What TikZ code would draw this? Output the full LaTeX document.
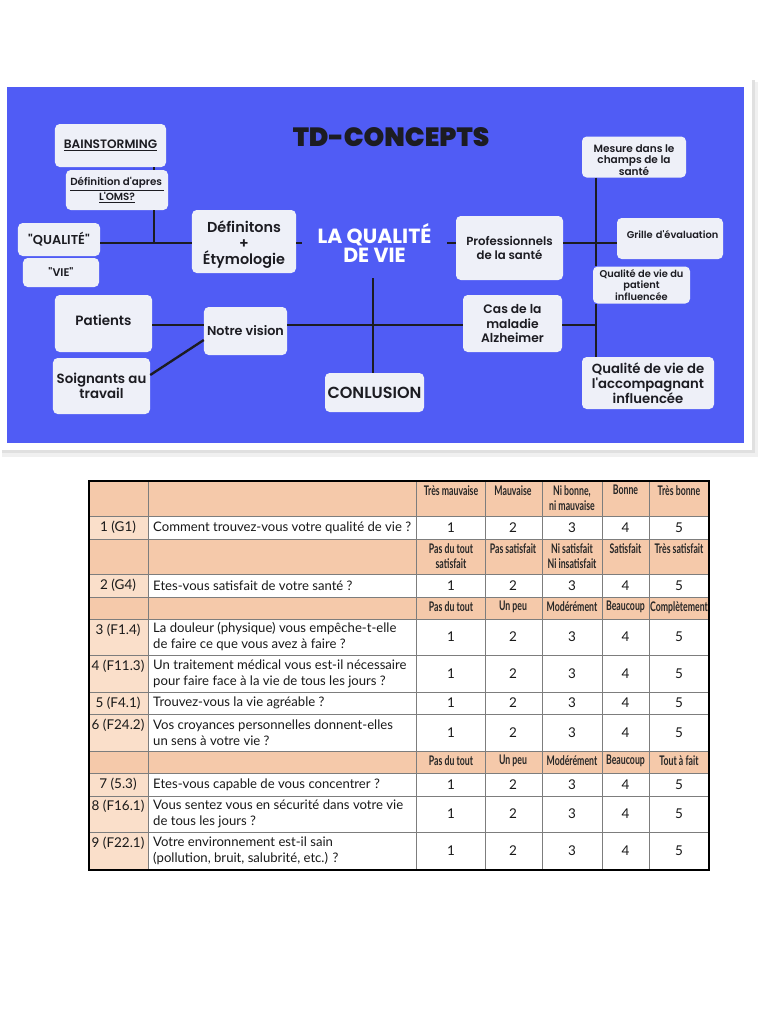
\documentclass[tikz,border=0pt]{standalone}
\usepackage{fontspec}
\setmainfont{Poppins}
\newfontfamily\semifont{Poppins SemiBold}
\newfontfamily\blackfont{Poppins Black}
\newfontfamily\tabfont{Lato}
\newfontfamily\condfont[FakeStretch=0.66]{Lato}
\usetikzlibrary{calc}

\definecolor{panelblue}{RGB}{80,92,245}
\definecolor{boxgray}{RGB}{238,240,248}
\definecolor{inkdark}{RGB}{28,28,34}
\definecolor{hdrpeach}{RGB}{245,201,170}
\definecolor{numpeach}{RGB}{250,223,202}
\definecolor{gridgray}{RGB}{125,125,125}

\begin{document}
\begin{tikzpicture}[x=0.03cm,y=-0.03cm,
  box/.style={fill=boxgray,rounded corners=4pt,text=inkdark,align=center,inner sep=0pt},
  link/.style={line width=2pt,draw=inkdark},
  hdr/.style={anchor=north,align=center,inner sep=0pt,text=black!85,font=\condfont\bfseries\fontsize{11.3}{12.8}\selectfont},
  qtext/.style={anchor=west,align=left,inner sep=0pt,text=black!90,font=\tabfont\fontsize{11.2}{13.7}\selectfont},
  num/.style={inner sep=0pt,text=black!90,font=\tabfont\fontsize{11.5}{12}\selectfont}]
\useasboundingbox (0,0) rectangle (768,1024);
\fill[white] (0,0) rectangle (768,1024);

% panel with its shadow
\fill[black!6] (2,82) rectangle (758,457);
\fill[black!12] (2,80) rectangle (755,453);
\fill[white] (0,78) rectangle (752,450);
\fill[panelblue] (7,87) rectangle (744,443);

% mind map
\node[text=inkdark,font=\blackfont\fontsize{22.5}{26}\selectfont] (title) at (391,137) {TD-CONCEPTS};

\node[box,minimum width=3.33cm,minimum height=1.29cm,font=\semifont\fontsize{10.4}{12}\selectfont] (brain) at (110.5,145.5) {\underline{BAINSTORMING}};
\node[box,minimum width=3.06cm,minimum height=1.2cm,font=\semifont\fontsize{8.8}{9.4}\selectfont] (oms) at (117,190) {\underline{Définition d{\char39}apres\,}\\\underline{L{\char39}OMS?}};
\node[box,minimum width=2.46cm,minimum height=0.99cm,font=\semifont\fontsize{11}{12}\selectfont] (qual) at (59,239.5) {{\char34}QUALITÉ{\char34}};
\node[box,minimum width=2.28cm,minimum height=0.87cm,font=\semifont\fontsize{9.5}{11}\selectfont] (vie) at (61,272.5) {{\char34}VIE{\char34}};
\node[box,minimum width=3.12cm,minimum height=1.89cm,font=\semifont\fontsize{12.3}{13.7}\selectfont] (defs) at (244,241.5) {\rule{0pt}{16pt}Définitons\\+\\Étymologie};
\node[box,minimum width=3.21cm,minimum height=1.92cm,font=\semifont\fontsize{10}{12}\selectfont] (pros) at (509.5,248) {Professionnels\\de la santé};
\node[box,minimum width=3.12cm,minimum height=1.23cm,font=\semifont\fontsize{9}{9.8}\selectfont] (mesure) at (634,157) {\rule{0pt}{12pt}Mesure dans le\\champs de la\\santé};
\node[box,minimum width=3.18cm,minimum height=1.23cm,font=\semifont\fontsize{8.4}{9}\selectfont,text width=2.9cm,align=right] (grille) at (670,238.5) {Grille d{\char39}évaluation\rule[-7.6pt]{0pt}{7.6pt}};
\node[box,minimum width=2.91cm,minimum height=1.11cm,font=\semifont\fontsize{8.4}{9}\selectfont] (patqv) at (641.5,285) {Qualité de vie du\\patient\\influencée};
\node[box,minimum width=2.97cm,minimum height=1.71cm,font=\semifont\fontsize{10.5}{12.2}\selectfont] (alz) at (512.5,323.5) {Cas de la\\maladie\\Alzheimer};
\node[box,minimum width=3.96cm,minimum height=1.56cm,font=\semifont\fontsize{11.3}{12.8}\selectfont] (accomp) at (648,383) {Qualité de vie de\\l{\char39}accompagnant\\influencée};
\node[box,minimum width=2.97cm,minimum height=1.17cm,font=\semifont\fontsize{13.7}{15}\selectfont] (concl) at (374.5,392.5) {CONLUSION};
\node[box,minimum width=2.49cm,minimum height=1.44cm,font=\semifont\fontsize{10.9}{12}\selectfont] (vision) at (245.5,331) {Notre vision};
\node[box,minimum width=2.91cm,minimum height=1.71cm,font=\semifont\fontsize{11.5}{12}\selectfont] (patients) at (103.5,323.5) {Patients\rule[-5pt]{0pt}{5pt}};
\node[box,minimum width=2.91cm,minimum height=1.68cm,font=\semifont\fontsize{11.4}{12.8}\selectfont] (soign) at (101.5,386) {Soignants au\\travail};

\coordinate (jl) at (154,243);
\coordinate (jr) at (596,243);
\coordinate (jc) at (373,325);
\coordinate (ctop) at (373,278);
\coordinate (jr2) at (596,325);

\draw[link] (jl |- brain.south) -- (jl |- oms.north);
\draw[link] (jl |- oms.south) -- (jl);
\draw[link] (qual.east |- jl) -- (defs.west |- jl);
\draw[link] (defs.east |- jl) -- (pros.west |- jl);
\draw[link] (pros.east |- jr) -- (grille.west |- jr);
\draw[link] (jr |- mesure.south) -- (jr |- patqv.north);
\draw[link] (ctop) -- (jc |- concl.north);
\draw[link] (vision.east |- jc) -- (alz.west |- jc);
\draw[link] (patients.east |- jc) -- (vision.west |- jc);
\draw[link] ($(vision.west)+(0,9)$) -- ($(soign.east)+(0,-11)$);
\draw[link] (alz.east |- jr2) -- (jr2);
\draw[link] (jr2 |- patqv.south) -- (jr2 |- accomp.north);

\node[fill=panelblue,text=white,align=center,inner xsep=13pt,inner ysep=1pt,font=\bfseries\fontsize{17.5}{16.5}\selectfont] (center) at (374.5,243) {LA QUALITÉ\\DE VIE};

% table cells
\fill[hdrpeach] (89,481) rectangle (709,516);
\fill[hdrpeach] (89,539) rectangle (709,574);
\fill[hdrpeach] (89,597) rectangle (709,619);
\fill[hdrpeach] (89,751) rectangle (709,773);
\fill[numpeach] (89,516) rectangle (148,539);
\fill[numpeach] (89,574) rectangle (148,597);
\fill[numpeach] (89,619) rectangle (148,751);
\fill[numpeach] (89,773) rectangle (148,870);

\draw[gridgray,line width=0.8pt] (89,516) -- (709,516) (89,539) -- (709,539) (89,574) -- (709,574) (89,597) -- (709,597) (89,619) -- (709,619) (89,655) -- (709,655) (89,692) -- (709,692) (89,714) -- (709,714) (89,751) -- (709,751) (89,773) -- (709,773) (89,796) -- (709,796) (89,832) -- (709,832);
\draw[gridgray,line width=0.8pt] (148,481) -- (148,870) (416,481) -- (416,870) (485,481) -- (485,870) (542,481) -- (542,870) (602,481) -- (602,870) (649,481) -- (649,870);
\draw[black,line width=2.2pt] (89,481) rectangle (709,870);

% header rows
\node[hdr] (h1a) at (451,485) {Très mauvaise};
\node[hdr] (h1b) at (513,485) {Mauvaise};
\node[hdr] (h1c) at (572,485) {Ni bonne,\\ni mauvaise};
\node[hdr] (h1d) at (625.5,485) {Bonne};
\node[hdr] (h1e) at (679,485) {Très bonne};
\node[hdr] (h2a) at (451,543) {Pas du tout\\satisfait};
\node[hdr] (h2b) at (513,543) {Pas satisfait};
\node[hdr] (h2c) at (572,543) {Ni satisfait\\Ni insatisfait};
\node[hdr] (h2d) at (625.5,543) {Satisfait};
\node[hdr] (h2e) at (679,543) {Très satisfait};
\node[hdr] (h3a) at (451,601) {Pas du tout};
\node[hdr] (h3b) at (513,601) {Un peu};
\node[hdr] (h3c) at (572,601) {Modérément};
\node[hdr] (h3d) at (625.5,601) {Beaucoup};
\node[hdr] (h3e) at (679,601) {Complètement};
\node[hdr] (h4a) at (451,755) {Pas du tout};
\node[hdr] (h4b) at (513,755) {Un peu};
\node[hdr] (h4c) at (572,755) {Modérément};
\node[hdr] (h4d) at (625.5,755) {Beaucoup};
\node[hdr] (h4e) at (679,755) {Tout à fait};

% item labels
\node[num] (id1) at (118,527.5) {1 (G1)};
\node[num] (id2) at (118,585.5) {2 (G4)};
\node[num] (id3) at (118,630) {3 (F1.4)};
\node[num] (id4) at (118,666) {4 (F11.3)};
\node[num] (id5) at (118,703) {5 (F4.1)};
\node[num] (id6) at (118,725) {6 (F24.2)};
\node[num] (id7) at (118,784.5) {7 (5.3)};
\node[num] (id8) at (118,806) {8 (F16.1)};
\node[num] (id9) at (118,843) {9 (F22.1)};

% questions
\node[qtext] (q1) at (153,527.5) {Comment trouvez-vous votre qualité de vie ?};
\node[qtext] (q2) at (153,585.5) {Etes-vous satisfait de votre santé ?};
\node[qtext] (q3) at (153,637) {La douleur (physique) vous empêche-t-elle\\de faire ce que vous avez à faire ?};
\node[qtext] (q4) at (153,673.5) {Un traitement médical vous est-il nécessaire\\pour faire face à la vie de tous les jours ?};
\node[qtext] (q5) at (153,703) {Trouvez-vous la vie agréable ?};
\node[qtext] (q6) at (153,732.5) {Vos croyances personnelles donnent-elles\\un sens à votre vie ?};
\node[qtext] (q7) at (153,784.5) {Etes-vous capable de vous concentrer ?};
\node[qtext] (q8) at (153,814) {Vous sentez vous en sécurité dans votre vie\\de tous les jours ?};
\node[qtext] (q9) at (153,851) {Votre environnement est-il sain\\(pollution, bruit, salubrité, etc.) ?};

% scores
\node[num] (s1a) at (451,527.5) {1}; \node[num] (s1b) at (513,527.5) {2}; \node[num] (s1c) at (572,527.5) {3}; \node[num] (s1d) at (625.5,527.5) {4}; \node[num] (s1e) at (679,527.5) {5};
\node[num] (s2a) at (451,585.5) {1}; \node[num] (s2b) at (513,585.5) {2}; \node[num] (s2c) at (572,585.5) {3}; \node[num] (s2d) at (625.5,585.5) {4}; \node[num] (s2e) at (679,585.5) {5};
\node[num] (s3a) at (451,637) {1}; \node[num] (s3b) at (513,637) {2}; \node[num] (s3c) at (572,637) {3}; \node[num] (s3d) at (625.5,637) {4}; \node[num] (s3e) at (679,637) {5};
\node[num] (s4a) at (451,673.5) {1}; \node[num] (s4b) at (513,673.5) {2}; \node[num] (s4c) at (572,673.5) {3}; \node[num] (s4d) at (625.5,673.5) {4}; \node[num] (s4e) at (679,673.5) {5};
\node[num] (s5a) at (451,703) {1}; \node[num] (s5b) at (513,703) {2}; \node[num] (s5c) at (572,703) {3}; \node[num] (s5d) at (625.5,703) {4}; \node[num] (s5e) at (679,703) {5};
\node[num] (s6a) at (451,732.5) {1}; \node[num] (s6b) at (513,732.5) {2}; \node[num] (s6c) at (572,732.5) {3}; \node[num] (s6d) at (625.5,732.5) {4}; \node[num] (s6e) at (679,732.5) {5};
\node[num] (s7a) at (451,784.5) {1}; \node[num] (s7b) at (513,784.5) {2}; \node[num] (s7c) at (572,784.5) {3}; \node[num] (s7d) at (625.5,784.5) {4}; \node[num] (s7e) at (679,784.5) {5};
\node[num] (s8a) at (451,814) {1}; \node[num] (s8b) at (513,814) {2}; \node[num] (s8c) at (572,814) {3}; \node[num] (s8d) at (625.5,814) {4}; \node[num] (s8e) at (679,814) {5};
\node[num] (s9a) at (451,851) {1}; \node[num] (s9b) at (513,851) {2}; \node[num] (s9c) at (572,851) {3}; \node[num] (s9d) at (625.5,851) {4}; \node[num] (s9e) at (679,851) {5};

\end{tikzpicture}
\end{document}
